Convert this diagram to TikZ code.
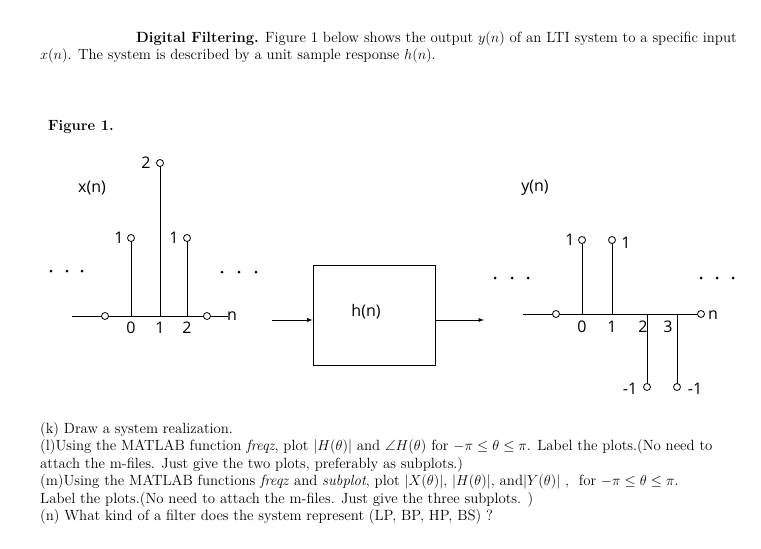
\documentclass[tikz,border=0pt]{standalone}
\usepackage{fontspec}
\usepackage{amsmath,amssymb}
\newfontfamily\plotfont{Open Sans}
\begin{document}
\begin{tikzpicture}[x=1pt,y=-1pt,
 txt/.style={anchor=west,inner sep=0pt,font=\fontsize{14.8}{17}\selectfont},
 lbl/.style={inner sep=0pt,font=\plotfont\fontsize{16}{18}\selectfont},
 stem/.style={line width=0.9pt},
 ring/.style={circle,draw,line width=0.8pt,fill=white,minimum size=7pt,inner sep=0pt},
 dot/.style={circle,fill,inner sep=0pt,minimum size=3pt}]
\useasboundingbox (0,0) rectangle (761,549);
\node[txt] (t1) at (136,39) {\textbf{Digital Filtering.} Figure 1 below shows the output $y(n)$ of an LTI system to a specific input};
\node[txt] (t2) at (40,56) {$x(n)$. The system is described by a unit sample response $h(n)$.};
\node[txt] (f1) at (48,127) {\textbf{Figure 1.}};
% left plot
\draw[stem] (72,316) -- (228,316);
\node[ring] (la) at (105,316) {};
\node[ring] (lb) at (207,316) {};
\node[lbl] at (227,316) [anchor=west] {n};
\foreach \x/\t/\l/\lx in {131/238/1/119,160/163/2/146,187/238/1/174}{
 \draw[stem] (\x,316) -- (\x,\t);
 \node[ring] at (\x,\t) {};
 \node[lbl] at (\lx,\t) {\l};}
\node[lbl] at (131,328) {0};
\node[lbl] at (160,328) {1};
\node[lbl] at (187,328) {2};
\node[lbl] at (92,188) {x(n)};
\foreach \x in {51,67,82} \node[dot] at (\x,271) {};
\foreach \x in {222,239,256} \node[dot] at (\x,272) {};
% box
\node[draw,line width=0.9pt,minimum width=122pt,minimum height=100pt,inner sep=0pt] (h) at (374,315) {};
\node[lbl] at (366,312) {h(n)};
\coordinate (in) at (272,320);
\coordinate (out) at (484,320);
\draw[line width=0.9pt,-latex] (in) -- (h.west |- in);
\draw[line width=0.9pt,-latex] (h.east |- out) -- (out);
% right plot
\draw[stem] (523,314) -- (704,314);
\node[ring] at (556,314) {};
\node[ring] at (701,314) {};
\node[lbl,anchor=west] at (708,315) {n};
\draw[stem] (582,314) -- (582,240); \node[ring] at (582,240) {}; \node[lbl] at (570,240) {1};
\draw[stem] (612,314) -- (612,240); \node[ring] at (612,240) {}; \node[lbl] at (626,243) {1};
\draw[stem] (647,314) -- (647,387); \node[ring] at (647,387) {}; \node[lbl] at (630,389) {-1};
\draw[stem] (677,314) -- (677,387); \node[ring] at (677,387) {}; \node[lbl] at (695,389) {-1};
\node[lbl] at (582,327) {0};
\node[lbl] at (612,327) {1};
\node[lbl] at (643,327) {2};
\node[lbl] at (668,327) {3};
\node[lbl] at (535,188) {y(n)};
\foreach \x in {495,512,528} \node[dot] at (\x,278) {};
\foreach \x in {701,717,733} \node[dot] at (\x,278) {};
% questions
\node[txt] at (40,430) {(k) Draw a system realization.};
\node[txt] at (40,447) {(l)Using the MATLAB function \textit{freqz}, plot $|H(\theta)|$ and $\angle H(\theta)$ for $-\pi\le\theta\le\pi$. Label the plots.(No need to};
\node[txt] at (40,465) {attach the m-files. Just give the two plots, preferably as subplots.)};
\node[txt] at (40,482) {(m)Using the MATLAB functions \textit{freqz} and \textit{subplot}, plot $|X(\theta)|$, $|H(\theta)|$, and$|Y(\theta)|$ , \ for $-\pi\le\theta\le\pi$.};
\node[txt] at (40,500) {Label the plots.(No need to attach the m-files. Just give the three subplots. )};
\node[txt] at (40,517) {(n) What kind of a filter does the system represent (LP, BP, HP, BS) ?};
\end{tikzpicture}
\end{document}
